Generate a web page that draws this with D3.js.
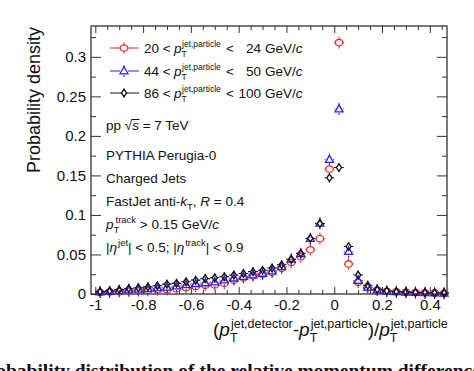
<!DOCTYPE html>
<html>
<head>
<meta charset="utf-8">
<script src="https://cdn.jsdelivr.net/npm/d3@7"></script>
<style>
  body { margin: 0; background: #fff; }
  svg { display: block; font-family: "Liberation Sans", Arial, sans-serif; }
  text { white-space: pre; }
</style>
</head>
<body>
<div id="chart"></div>
<script>
// bin centres of the histogram (width 0.04)
const binCentres = [-0.98, -0.94, -0.90, -0.86, -0.82, -0.78, -0.74, -0.70, -0.66, -0.62, -0.58, -0.54,
  -0.50, -0.46, -0.42, -0.38, -0.34, -0.30, -0.26, -0.22, -0.18, -0.14, -0.10, -0.06, -0.02,
  0.02, 0.06, 0.10, 0.14, 0.18, 0.22, 0.26, 0.30, 0.34, 0.38, 0.42, 0.46];
const binHalfWidth = 0.02;

// 20 < pT < 24 GeV/c
const red = [0.002, 0.0025, 0.003, 0.0035, 0.004, 0.0045, 0.005, 0.0055, 0.0065, 0.008, 0.0095, 0.011,
  0.0115, 0.0135, 0.0175, 0.0205, 0.023, 0.025, 0.0275, 0.0325, 0.040, 0.047, 0.056, 0.070, 0.158,
  0.318, 0.038, 0.015, 0.008, 0.005, 0.0035, 0.0028, 0.0022, 0.0018, 0.0015, 0.0013, 0.001];
// 44 < pT < 50 GeV/c
const blue = [0.0025, 0.003, 0.004, 0.005, 0.006, 0.0065, 0.0075, 0.0085, 0.010, 0.0115, 0.013, 0.014,
  0.015, 0.0175, 0.020, 0.022, 0.024, 0.026, 0.029, 0.0345, 0.044, 0.051, 0.070, 0.0895, 0.170,
  0.234, 0.0536, 0.017, 0.0085, 0.005, 0.0035, 0.0028, 0.0022, 0.0018, 0.0015, 0.0013, 0.001];
// 86 < pT < 100 GeV/c
const black = [0.003, 0.004, 0.0055, 0.007, 0.008, 0.009, 0.0105, 0.0125, 0.0135, 0.0155, 0.0175, 0.0195,
  0.0205, 0.022, 0.024, 0.026, 0.0283, 0.030, 0.0328, 0.037, 0.044, 0.0515, 0.0705, 0.089, 0.147,
  0.160, 0.060, 0.024, 0.011, 0.006, 0.004, 0.003, 0.0025, 0.002, 0.0018, 0.0015, 0.0012];

const xTicks = [-1, -0.8, -0.6, -0.4, -0.2, 0, 0.2, 0.4];
const xTickLabels = ["-1", "-0.8", "-0.6", "-0.4", "-0.2", "0", "0.2", "0.4"];
const yTicks = [0, 0.05, 0.1, 0.15, 0.2, 0.25, 0.3];
const yTickLabels = ["0", "0.05", "0.1", "0.15", "0.2", "0.25", "0.3"];

const seriesLow = ["20", "44", "86"];
const seriesHigh = ["24", "50", "100"];

const width = 474;
const height = 371;
const frame = { left: 91, right: 447, top: 26, bottom: 294 };

const svg = d3.select("#chart").append("svg").attr("width", width).attr("height", height);

const x = d3.scaleLinear().domain([-1.018, 0.472]).range([frame.left, frame.right]);
const y = d3.scaleLinear().domain([0, 0.339]).range([frame.bottom, frame.top]);

const axisColor = "#333";
const minorX = d3.range(-1, 0.4701, 0.05).filter((v) => xTicks.every((t) => Math.abs(t - v) > 1e-6));
const minorY = d3.range(0, 0.3391, 0.025).filter((v) => yTicks.every((t) => Math.abs(t - v) > 1e-6));

const styleAxis = (g) => {
  g.select(".domain").remove();
  g.selectAll("line").attr("stroke", axisColor).attr("stroke-width", 1);
  g.selectAll("text").attr("fill", "#111").attr("font-size", 15);
};

// bottom
svg.append("g").attr("transform", `translate(0,${frame.bottom})`)
  .call(d3.axisBottom(x).tickValues(xTicks).tickFormat((d, i) => xTickLabels[i]).tickSizeInner(-7).tickSizeOuter(0).tickPadding(5))
  .call(styleAxis);
svg.append("g").attr("transform", `translate(0,${frame.bottom})`)
  .call(d3.axisBottom(x).tickValues(minorX).tickFormat("").tickSizeInner(-4).tickSizeOuter(0))
  .call(styleAxis);
// top
svg.append("g").attr("transform", `translate(0,${frame.top})`)
  .call(d3.axisTop(x).tickValues(xTicks).tickFormat("").tickSizeInner(-7).tickSizeOuter(0))
  .call(styleAxis);
svg.append("g").attr("transform", `translate(0,${frame.top})`)
  .call(d3.axisTop(x).tickValues(minorX).tickFormat("").tickSizeInner(-4).tickSizeOuter(0))
  .call(styleAxis);
// left
svg.append("g").attr("transform", `translate(${frame.left},0)`)
  .call(d3.axisLeft(y).tickValues(yTicks).tickFormat((d, i) => yTickLabels[i]).tickSizeInner(-10).tickSizeOuter(0).tickPadding(5))
  .call(styleAxis);
svg.append("g").attr("transform", `translate(${frame.left},0)`)
  .call(d3.axisLeft(y).tickValues(minorY).tickFormat("").tickSizeInner(-5).tickSizeOuter(0))
  .call(styleAxis);
// right
svg.append("g").attr("transform", `translate(${frame.right},0)`)
  .call(d3.axisRight(y).tickValues(yTicks).tickFormat("").tickSizeInner(-10).tickSizeOuter(0))
  .call(styleAxis);
svg.append("g").attr("transform", `translate(${frame.right},0)`)
  .call(d3.axisRight(y).tickValues(minorY).tickFormat("").tickSizeInner(-5).tickSizeOuter(0))
  .call(styleAxis);

svg.append("rect")
  .attr("x", frame.left).attr("y", frame.top)
  .attr("width", frame.right - frame.left).attr("height", frame.bottom - frame.top)
  .attr("fill", "none").attr("stroke", axisColor).attr("stroke-width", 1.3);

// markers
const markers = {
  circle: (g, c) => g.append("ellipse").attr("rx", 3.8).attr("ry", 3.2).attr("fill", "none").attr("stroke", c).attr("stroke-width", 1.3),
  triangle: (g, c) => g.append("path").attr("d", "M0,-4.2L4,2.8L-4,2.8Z").attr("fill", "none").attr("stroke", c).attr("stroke-width", 1.3),
  diamond: (g, c) => g.append("path").attr("d", "M0,-3.6L2.6,0L0,3.6L-2.6,0Z").attr("fill", "none").attr("stroke", c).attr("stroke-width", 1.3),
};

const series = [
  { values: red, color: "#f02828", marker: "circle", gap: 3.8 },
  { values: blue, color: "#2323f0", marker: "triangle", gap: 4 },
  { values: black, color: "#111", marker: "diamond", gap: 2.6 },
];

const plot = svg.append("g");
series.forEach((s) => {
  const pts = plot.selectAll(null).data(binCentres.map((c, i) => ({ c, v: s.values[i] }))).enter()
    .append("g").attr("transform", (d) => `translate(${x(d.c)},${y(d.v)})`);
  pts.each(function (d) {
    const g = d3.select(this);
    const half = x(d.c + binHalfWidth) - x(d.c);
    g.append("path")
      .attr("d", `M${-half},0H${-s.gap}M${s.gap},0H${half}M0,${-s.gap - 2}V${-s.gap}M0,${s.gap}V${s.gap + 2}`)
      .attr("stroke", s.color).attr("stroke-width", 1.1);
    markers[s.marker](g, s.color);
  });
});

// rich text helper: strings, {i}, {sub, sup}
function rich(g, x0, y0, parts, fs) {
  let cx = x0;
  parts.forEach((p) => {
    if (typeof p === "string") p = { t: p };
    if (p.gap !== undefined) { cx += p.gap; return; }
    if (p.t !== undefined || p.i !== undefined) {
      const t = g.append("text").attr("x", cx).attr("y", y0).attr("font-size", fs)
        .attr("font-style", p.i !== undefined ? "italic" : null).text(p.i !== undefined ? p.i : p.t);
      cx += t.node().getComputedTextLength();
      return;
    }
    let w = 0;
    const sfs = p.fs || fs * 0.68;
    if (p.sub) {
      const t = g.append("text").attr("x", cx).attr("y", y0 + fs * 0.32).attr("font-size", sfs).text(p.sub);
      w = Math.max(w, t.node().getComputedTextLength());
    }
    if (p.sup) {
      const t = g.append("text").attr("x", cx + (p.supdx || 0)).attr("y", y0 - fs * 0.42).attr("font-size", sfs)
        .attr("font-style", p.supi ? "italic" : null).text(p.sup);
      w = Math.max(w, t.node().getComputedTextLength() + (p.supdx || 0));
    }
    cx += w;
  });
  return cx;
}

const txt = svg.append("g").attr("fill", "#111");

// legend
const legendY = [48, 71, 93];
series.forEach((s, i) => {
  const cy = legendY[i];
  const g = svg.append("g").attr("transform", `translate(124,${cy})`);
  g.append("path").attr("d", `M-14,0H${-s.gap}M${s.gap},0H15M0,${-s.gap - 2}V${-s.gap}M0,${s.gap}V${s.gap + 2}`)
    .attr("stroke", s.color).attr("stroke-width", 1.1);
  markers[s.marker](g, s.color);

  const base = cy + 5;
  rich(txt, 144, base, [seriesLow[i] + " <"], 13.5);
  rich(txt, 174, base, [{ i: "p" }, { sub: "T", sup: "jet,particle", fs: 8.5, supdx: 0.5 }], 13.5);
  txt.append("text").attr("x", 226).attr("y", base).attr("font-size", 13.5).text("<");
  txt.append("text").attr("x", 261).attr("y", base).attr("font-size", 13.5).attr("text-anchor", "end").text(seriesHigh[i]);
  rich(txt, 265, base, ["GeV/", { i: "c" }], 13.5);
});

// info block
const fsInfo = 13.5;
{
  const end = rich(txt, 106, 130, ["pp √"], fsInfo);
  const sEnd = rich(txt, end, 130, [{ i: "s" }], fsInfo);
  txt.append("line").attr("x1", end - 0.5).attr("x2", sEnd + 0.5).attr("y1", 119.5).attr("y2", 119.5)
    .attr("stroke", "#111").attr("stroke-width", 1);
  rich(txt, sEnd, 130, [" = 7 TeV"], fsInfo);
}
rich(txt, 106, 160, ["PYTHIA Perugia-0"], fsInfo);
rich(txt, 106, 183, ["Charged Jets"], fsInfo);
rich(txt, 106, 206, ["FastJet anti-", { i: "k" }, { sub: "T", fs: 9.5 }, ", ", { i: "R" }, " = 0.4"], fsInfo);
rich(txt, 106, 229, [{ i: "p" }, { sub: "T", sup: "track", fs: 9.5, supdx: 2 }, " > 0.15 GeV/", { i: "c" }], fsInfo);
rich(txt, 106, 252, ["|", { i: "η" }, { sup: "jet", fs: 9.5, supdx: 1 }, "| < 0.5; |", { i: "η" }, { sup: "track", fs: 9.5, supdx: 1 }, "| < 0.9"], fsInfo);

// axis titles
svg.append("text")
  .attr("transform", "translate(40,27) rotate(-90)")
  .attr("text-anchor", "end").attr("font-size", 18).attr("fill", "#111")
  .text("Probability density");

const xt = svg.append("g").attr("fill", "#111");
rich(xt, 213, 336, ["(", { i: "p" }, { sub: "T", sup: "jet,detector", fs: 12.5, supdx: 1 }, "-", { i: "p" },
  { sub: "T", sup: "jet,particle", fs: 12.5, supdx: 1 }, ")/", { i: "p" }, { sub: "T", sup: "jet,particle", fs: 12.5, supdx: 1 }], 19);

// caption fragment at the bottom edge
svg.append("text")
  .attr("x", -24).attr("y", 377)
  .attr("font-family", "'Liberation Serif', 'Times New Roman', serif")
  .attr("font-weight", "bold").attr("font-size", 19.5).attr("fill", "#111")
  .text("Probability distribution of the relative momentum difference");
</script>
</body>
</html>
